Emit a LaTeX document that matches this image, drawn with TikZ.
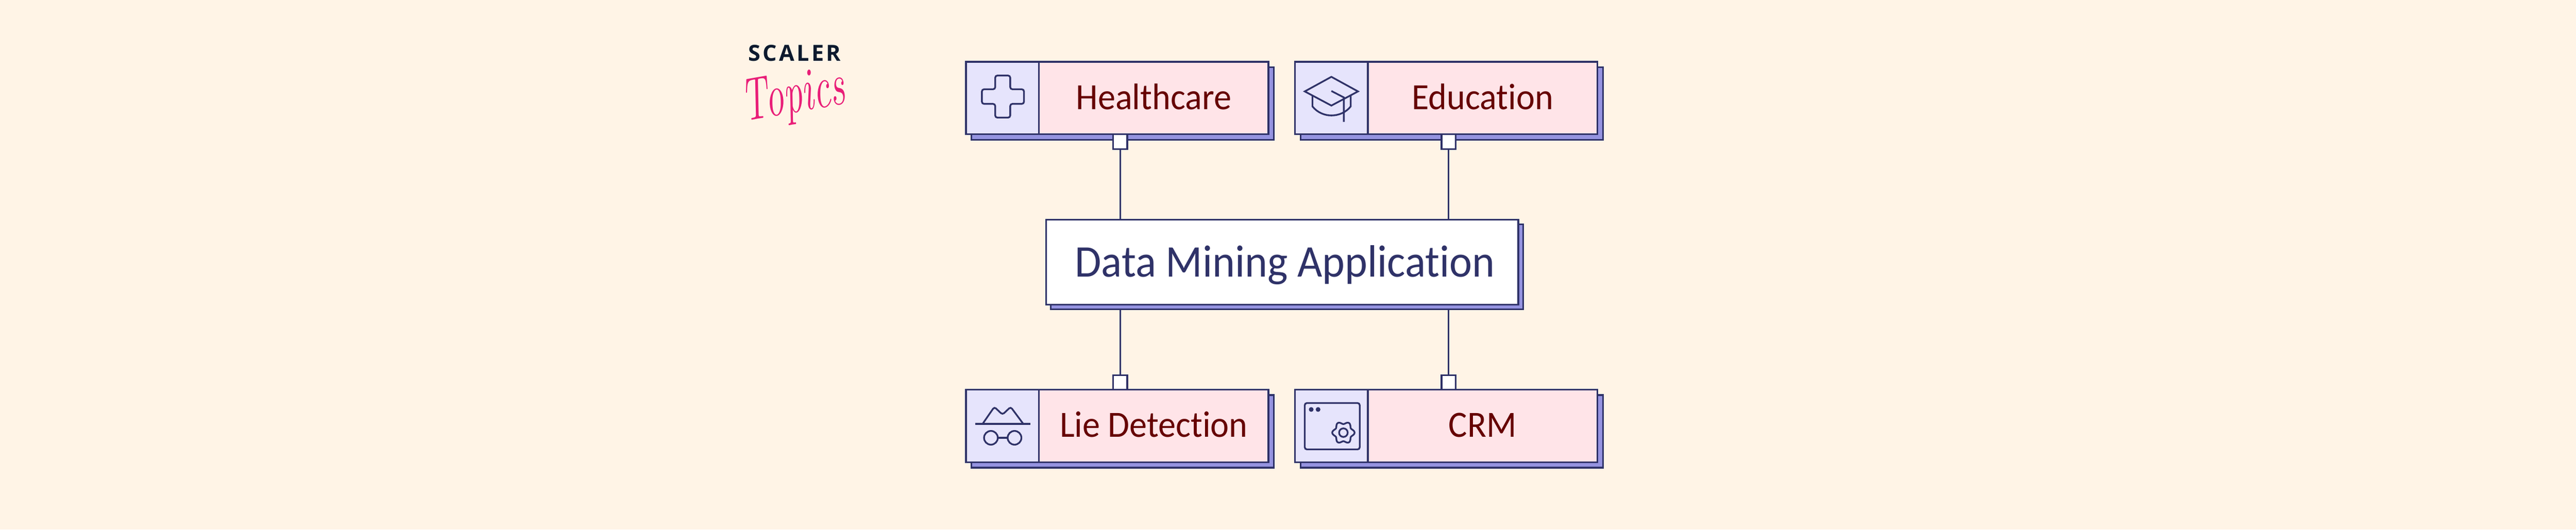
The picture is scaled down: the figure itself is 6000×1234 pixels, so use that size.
\documentclass[tikz,border=0pt]{standalone}
\usepackage{fontspec}
\newfontfamily\cardFont[Ligatures=NoCommon, FakeStretch=0.95]{Carlito}
\newfontfamily\scalerFont[LetterSpace=10]{Open Sans}
\definecolor{colorBack}{HTML}{FFF4E6}
\definecolor{colorStroke}{HTML}{2F3268}
\definecolor{colorShadow}{HTML}{9593E0}
\definecolor{colorIcon}{HTML}{E6E4FC}
\definecolor{colorCard}{HTML}{FFE4E8}
\definecolor{colorCardText}{HTML}{660000}
\definecolor{colorScaler}{HTML}{0D1A2E}
\definecolor{colorTopics}{HTML}{E91E78}
\usetikzlibrary{positioning, backgrounds}
\tikzset{
  cardIcon/.style={draw=colorStroke, line width=0.038cm, fill=colorIcon, minimum width=1.70cm, minimum height=1.69cm, inner sep=0pt, outer sep=0pt},
  cardText/.style={draw=colorStroke, line width=0.038cm, fill=colorCard, minimum width=5.34cm, minimum height=1.69cm, inner sep=0pt, outer sep=0pt, text=colorCardText, text height=0.53cm, text depth=0cm, font=\cardFont\fontsize{24.5}{28}\selectfont},
  mainBox/.style={draw=colorStroke, line width=0.038cm, fill=white, minimum width=10.99cm, minimum height=1.98cm, inner sep=0pt, outer sep=0pt, text=colorStroke, text height=0.67cm, text depth=0cm, font=\cardFont\fontsize{30}{34}\selectfont},
  cardShadow/.style={draw=colorStroke, line width=0.038cm, fill=colorShadow},
  portBox/.style={draw=colorStroke, line width=0.038cm, fill=white, minimum width=0.33cm, minimum height=0.34cm, inner sep=0pt, outer sep=0pt},
  linkLine/.style={draw=colorStroke, line width=0.036cm},
  iconLine/.style={draw=colorStroke, line width=0.04cm}
}

\begin{document}
\begin{tikzpicture}[x=0.01cm, y=-0.01cm]
\useasboundingbox (0,0) rectangle (6000,1234);
% cards
\node[mainBox] (dmApp) at (2986.5,611) {\hspace*{0.13cm}Data Mining Application};
\node[cardIcon] (hcIcon) at (2335,228.5) {};
\node[cardText, right=0cm of hcIcon] (hcText) {Healthcare};
\node[cardIcon] (edIcon) at (3101,228.5) {};
\node[cardText, right=0cm of edIcon] (edText) {Education};
\node[cardIcon] (ldIcon) at (2335,992) {};
\node[cardText, right=0cm of ldIcon] (ldText) {Lie Detection};
\node[cardIcon] (crIcon) at (3101,992) {};
\node[cardText, right=0cm of crIcon] (crText) {CRM};
% ports
\node[portBox] (hcPort) at (2609,330) {};
\node[portBox] (edPort) at (3374,330) {};
\node[portBox] (ldPort) at (2609,891) {};
\node[portBox] (crPort) at (3374,891) {};
% background, links and shadows
\begin{scope}[on background layer]
\fill[colorBack] (0,0) rectangle (6000,1234);
\draw[linkLine] (hcPort) -- (dmApp.north -| hcPort);
\draw[linkLine] (edPort) -- (dmApp.north -| edPort);
\draw[linkLine] (ldPort) -- (dmApp.south -| ldPort);
\draw[linkLine] (crPort) -- (dmApp.south -| crPort);
\draw[cardShadow] ([shift={(11,11)}]dmApp.north west) rectangle ([shift={(11,11)}]dmApp.south east);
\draw[cardShadow] ([shift={(13,13)}]hcIcon.north west) rectangle ([shift={(13,13)}]hcText.south east);
\draw[cardShadow] ([shift={(13,13)}]edIcon.north west) rectangle ([shift={(13,13)}]edText.south east);
\draw[cardShadow] ([shift={(13,13)}]ldIcon.north west) rectangle ([shift={(13,13)}]ldText.south east);
\draw[cardShadow] ([shift={(13,13)}]crIcon.north west) rectangle ([shift={(13,13)}]crText.south east);
\end{scope}
% cross
\draw[iconLine, rounded corners=0.05cm] (2318,176) -- (2353,176) -- (2353,208) -- (2385,208) -- (2385,242) -- (2353,242) -- (2353,274) -- (2318,274) -- (2318,242) -- (2287,242) -- (2287,208) -- (2318,208) -- cycle;
% cap
\draw[iconLine] (3101,179) -- (3163,213) -- (3101,246) -- (3039,213) -- cycle;
\draw[iconLine] (3101,212) -- (3130,227) -- (3130,284);
\draw[iconLine] (3057,222) -- (3057,248) .. controls (3068,262) and (3085,269) .. (3101,269) .. controls (3118,269) and (3135,262) .. (3146,248) -- (3146,222);
% hat and glasses
\draw[iconLine, line width=0.05cm] (2271,988) -- (2400,988);
\draw[iconLine, rounded corners=0.05cm] (2289,987) -- (2316,948) -- (2335,966) -- (2354,948) -- (2383,987);
\draw[iconLine] (2308,1020) circle [radius=16];
\draw[iconLine] (2363,1020) circle [radius=16];
\draw[iconLine] (2324,1020) -- (2347,1020);
% window and gear
\draw[iconLine, rounded corners=0.05cm] (3039,939) rectangle (3167,1047);
\fill[colorStroke] (3054,954) circle [radius=5.5];
\fill[colorStroke] (3070,954) circle [radius=5.5];
\draw[iconLine] plot[smooth cycle, domain=0:355, samples=72] ({3129+(23+3*cos(6*\x))*cos(\x)},{1008+(23+3*cos(6*\x))*sin(\x)});
\draw[iconLine] (3129,1008) circle [radius=10];
% logo
\node[text=colorScaler, font=\scalerFont\bfseries\fontsize{14.7}{16}\selectfont, inner sep=0pt] (logoScaler) at (1851,124) {SCALER};
\node[text=colorTopics, font=\itshape\fontsize{40}{42}\selectfont, inner sep=0pt, rotate=10, xscale=0.62] (logoTopics) at (1848,228) {Topics};
\end{tikzpicture}
\end{document}
